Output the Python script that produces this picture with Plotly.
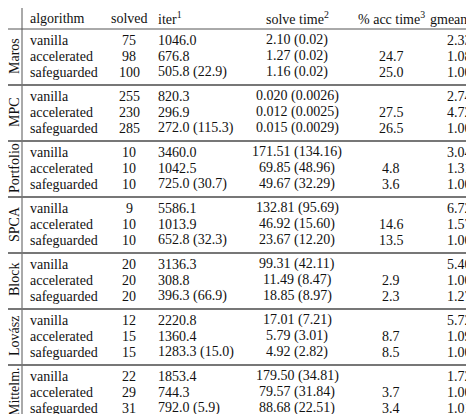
import plotly.graph_objects as go

groups = ["Maros", "MPC", "Portfolio", "SPCA", "Block", "Lovász", "Mittelm."]
algorithms = ["vanilla", "accelerated", "safeguarded"]
solved = [[75, 98, 100], [255, 230, 285], [10, 10, 10], [9, 10, 10],
          [20, 20, 20], [12, 15, 15], [22, 29, 31]]
iters = [["1046.0", "676.8", "505.8 (22.9)"],
         ["820.3", "296.9", "272.0 (115.3)"],
         ["3460.0", "1042.5", "725.0 (30.7)"],
         ["5586.1", "1013.9", "652.8 (32.3)"],
         ["3136.3", "308.8", "396.3 (66.9)"],
         ["2220.8", "1360.4", "1283.3 (15.0)"],
         ["1853.4", "744.3", "792.0 (5.9)"]]
solve_time = [["2.10 (0.02)", "1.27 (0.02)", "1.16 (0.02)"],
              ["0.020 (0.0026)", "0.012 (0.0025)", "0.015 (0.0029)"],
              ["171.51 (134.16)", "69.85 (48.96)", "49.67 (32.29)"],
              ["132.81 (95.69)", "46.92 (15.60)", "23.67 (12.20)"],
              ["99.31 (42.11)", "11.49 (8.47)", "18.85 (8.97)"],
              ["17.01 (7.21)", "5.79 (3.01)", "4.92 (2.82)"],
              ["179.50 (34.81)", "79.57 (31.84)", "88.68 (22.51)"]]
acc_time = [["", "24.7", "25.0"], ["", "27.5", "26.5"], ["", "4.8", "3.6"],
            ["", "14.6", "13.5"], ["", "2.9", "2.3"], ["", "8.7", "8.5"],
            ["", "3.7", "3.4"]]
gmean = [["2.33", "1.08", "1.00"], ["2.74", "4.72", "1.00"],
         ["3.04", "1.31", "1.00"], ["6.72", "1.57", "1.00"],
         ["5.40", "1.00", "1.27"], ["5.72", "1.09", "1.00"],
         ["1.72", "1.00", "1.01"]]
headers = ["algorithm", "solved", "iter<sup>1</sup>", "solve time<sup>2</sup>",
           "% acc time<sup>3</sup>", "gmean<sup>4</sup>"]

FONT = dict(family="Liberation Serif", size=14, color="#111")

fig = go.Figure()

# column x position and alignment
cols = [(20, "left"), (121, "center"), (148, "left"), (289, "center"),
        (383, "center"), (466, "right")]

for x_h, h in zip(cols, headers):
    fig.add_annotation(x=x_h[0], y=10, text=h, showarrow=False,
                       xanchor=x_h[1], yanchor="middle", font=FONT)

for g, name in enumerate(groups):
    fig.add_annotation(x=6, y=48 + 56 * g, text=name, textangle=-90,
                       showarrow=False, font=FONT, xanchor="center",
                       yanchor="middle")
    for i in range(3):
        y = 32 + 56 * g + 16 * i
        row = [algorithms[i], str(solved[g][i]), iters[g][i],
               solve_time[g][i], acc_time[g][i], gmean[g][i]]
        for (x, al), txt in zip(cols, row):
            if txt:
                fig.add_annotation(x=x, y=y, text=txt, showarrow=False,
                                   xanchor=al, yanchor="middle", font=FONT)

shapes = [dict(type="line", x0=14, x1=14, y0=0, y1=414,
               line=dict(color="#555", width=1)),
          dict(type="line", x0=0, x1=474, y0=21, y1=21,
               line=dict(color="#555", width=1))]
for g in range(1, len(groups)):
    y = 21 + 56 * g
    shapes.append(dict(type="line", x0=0, x1=474, y0=y, y1=y,
                       line=dict(color="#777", width=2)))

fig.update_layout(
    width=474, height=414, margin=dict(l=0, r=0, t=0, b=0),
    showlegend=False, plot_bgcolor="white", paper_bgcolor="white",
    xaxis=dict(range=[0, 474], visible=False, fixedrange=True),
    yaxis=dict(range=[414, 0], visible=False, fixedrange=True),
    shapes=shapes,
)

fig.write_html("out.html")
